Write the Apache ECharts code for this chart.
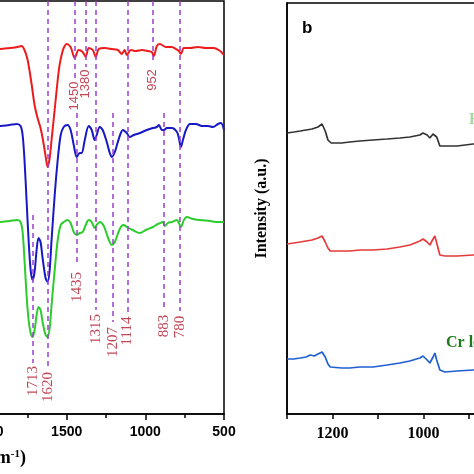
<!DOCTYPE html>
<html><head><meta charset="utf-8">
<script src="https://cdn.jsdelivr.net/npm/echarts@6/dist/echarts.min.js"></script>
<style>html,body{margin:0;padding:0;background:#fff}#c{width:474px;height:474px}</style>
</head><body><div id="c"></div>
<script>
// Panel a: FTIR spectra [wavenumber, transmittance (a.u.)]
const ftirRed = [[2000,366],[1927,365],[1863,366],[1812,367],[1787,368],[1768,364],[1748,354],[1723,330],[1704,309],[1685,296],[1666,286],[1653,276],[1640,264],[1627,251],[1621,247],[1608,256],[1596,274],[1583,294],[1570,314],[1557,334],[1545,349],[1532,359],[1519,366],[1500,370],[1475,367],[1449,356],[1424,364],[1398,362],[1379,357],[1360,366],[1334,364],[1315,357],[1296,365],[1258,366],[1213,365],[1175,364],[1150,360],[1131,364],[1118,359],[1092,364],[1060,363],[1022,364],[984,363],[959,362],[946,358],[927,368],[908,370],[869,367],[831,367],[806,365],[787,363],[774,360],[755,366],[716,366],[666,367],[615,366],[564,366],[525,363],[500,359]];
const ftirBlue = [[2000,287],[1927,288],[1863,289],[1818,290],[1793,288],[1780,279],[1768,254],[1755,214],[1742,174],[1729,144],[1717,134],[1704,142],[1691,164],[1679,176],[1666,172],[1653,156],[1634,136],[1621,132],[1608,144],[1596,174],[1576,219],[1557,254],[1538,279],[1519,287],[1494,289],[1475,284],[1455,269],[1436,257],[1417,261],[1404,261],[1385,274],[1360,288],[1341,284],[1322,274],[1309,279],[1290,287],[1271,284],[1245,272],[1226,261],[1213,257],[1194,262],[1175,272],[1156,281],[1143,284],[1118,281],[1099,277],[1073,279],[1035,281],[990,284],[952,286],[927,287],[914,289],[895,284],[882,284],[863,286],[831,286],[799,282],[787,276],[774,267],[761,274],[742,284],[716,290],[678,290],[640,288],[602,288],[570,287],[538,290],[519,291],[500,284]];
const ftirGreen = [[2000,192],[1927,192],[1863,193],[1812,194],[1793,192],[1780,182],[1768,154],[1755,119],[1742,94],[1729,81],[1717,77],[1704,84],[1691,99],[1679,107],[1666,104],[1653,92],[1634,79],[1621,77],[1608,86],[1596,109],[1576,144],[1557,174],[1538,189],[1519,192],[1494,194],[1475,191],[1455,182],[1436,179],[1417,181],[1398,182],[1379,189],[1360,194],[1341,192],[1322,186],[1309,189],[1290,192],[1264,188],[1239,177],[1213,169],[1194,172],[1175,180],[1156,187],[1137,189],[1118,187],[1080,184],[1035,181],[997,184],[952,187],[920,190],[888,192],[876,188],[857,191],[831,192],[799,194],[787,191],[774,187],[755,194],[736,197],[697,195],[653,194],[589,193],[538,192],[500,192]];

// Peak annotations (wavenumber, dashed line extent, label centre) in transmittance units
const topPeaks = [1450, 1380, 952];
const topLineFrom = [413, 413, 413];
const topLineTo = [336, 347, 350];
const topLabelY = [318, 330, 334];
const bottomPeaks = [1713, 1620, 1435, 1315, 1207, 1114, 883, 780];
const bottomLineFrom = [199, 413, 301, 413, 301, 413, 301, 413];
const bottomLineTo = [51, 48, 149, 104, 92, 101, 103, 103];
const bottomLabelY = [33, 27, 127, 85, 72, 83, 88, 87];

// Panel b: spectra [wavenumber, intensity (a.u.)]
const bBlack = [[1300,281],[1285,282],[1271,283],[1258,284],[1245,285],[1232,287],[1223,290],[1216,283],[1210,274],[1203,271],[1180,271],[1162,272],[1140,273],[1111,274],[1080,275],[1052,276],[1030,277],[1008,279],[1001,281],[992,279],[986,276],[979,280],[975,282],[971,277],[964,268],[953,268],[926,268],[891,270],[860,270],[800,271],[700,271]];
const bRed = [[1300,170],[1285,171],[1271,172],[1258,173],[1245,174],[1232,176],[1223,178],[1216,172],[1210,166],[1205,163],[1180,163],[1162,163],[1140,164],[1111,164],[1080,165],[1052,167],[1030,169],[1008,173],[1001,175],[992,172],[986,169],[979,175],[975,178],[971,171],[964,159],[953,158],[926,158],[891,159],[860,159],[800,160],[700,160]];
const bBlue = [[1300,55],[1285,55],[1271,56],[1258,57],[1249,59],[1240,58],[1232,60],[1223,62],[1216,57],[1210,50],[1205,47],[1180,46],[1162,46],[1140,47],[1111,47],[1080,49],[1052,51],[1030,53],[1008,56],[1001,58],[992,54],[986,51],[979,57],[975,61],[971,54],[964,44],[953,42],[926,43],[891,44],[860,44],[800,45],[700,45]];

const chart = echarts.init(document.getElementById('c'));
const black = '#000';
const labelRed = '#b3182b';
const dash = {color:'#9a3fd0', type:[5,4], width:1.5};

function lines(peaks, from, to){
  return peaks.map((w,i)=>[{coord:[w, from[i]]},{coord:[w, to[i]]}]);
}

chart.setOption({
  animation:false,
  backgroundColor:'#fff',
  grid:[
    {left:-12, top:1, width:236, height:413, show:true, borderColor:black, borderWidth:1.5, outerBoundsMode:'none', containLabel:false},
    {left:287, top:3, width:318.5, height:411, show:true, borderColor:black, borderWidth:1.5, outerBoundsMode:'none', containLabel:false}
  ],
  xAxis:[
    {gridIndex:0, type:'value', min:500, max:2000, interval:500, inverse:true,
     axisLine:{lineStyle:{color:black,width:1.5}},
     axisTick:{length:6, lineStyle:{color:black,width:1.5}},
     minorTick:{show:true, splitNumber:2, length:4, lineStyle:{color:black,width:1.5}},
     splitLine:{show:false}, minorSplitLine:{show:false},
     axisLabel:{color:black, fontWeight:'bold', fontSize:14, fontFamily:'Liberation Sans', margin:11, formatter:v=>String(v)}},
    {gridIndex:1, type:'value', min:600, max:1300, interval:100, inverse:true,
     axisLine:{lineStyle:{color:black,width:1.5}},
     axisTick:{length:5, lineStyle:{color:black,width:1.5}},
     splitLine:{show:false},
     axisLabel:{color:black, fontWeight:'bold', fontSize:16, fontFamily:'Liberation Serif', margin:12,
       formatter:v=> (v % 200 === 0 ? String(v) : '')}}
  ],
  yAxis:[
    {gridIndex:0, type:'value', min:0, max:413, show:false},
    {gridIndex:1, type:'value', min:0, max:411,
     axisLine:{show:true, lineStyle:{color:black,width:1.5}}, axisTick:{show:false}, axisLabel:{show:false}, splitLine:{show:false},
     name:'Intensity (a.u.)', nameLocation:'middle', nameGap:17,
     nameTextStyle:{fontFamily:'Liberation Serif', fontWeight:'bold', fontSize:16, color:black}}
  ],
  series:[
    {type:'line', xAxisIndex:0, yAxisIndex:0, data:ftirRed, showSymbol:false, smooth:0.3, lineStyle:{color:'#ec1c1c', width:2}},
    {type:'line', xAxisIndex:0, yAxisIndex:0, data:ftirBlue, showSymbol:false, smooth:0.3, lineStyle:{color:'#1818c4', width:2}},
    {type:'line', xAxisIndex:0, yAxisIndex:0, data:ftirGreen, showSymbol:false, smooth:0.3, lineStyle:{color:'#2ccc2c', width:2}},
    {type:'line', xAxisIndex:1, yAxisIndex:1, data:bBlack, showSymbol:false, lineStyle:{color:'#333333', width:1.7}},
    {type:'line', xAxisIndex:1, yAxisIndex:1, data:bRed, showSymbol:false, lineStyle:{color:'#e43a3a', width:1.7}},
    {type:'line', xAxisIndex:1, yAxisIndex:1, data:bBlue, showSymbol:false, lineStyle:{color:'#1f5fd2', width:1.7}},
    {type:'scatter', xAxisIndex:0, yAxisIndex:0, z:5,
     data:topPeaks.map((w,i)=>[w, topLabelY[i]]), symbolSize:1, itemStyle:{color:'rgba(0,0,0,0)'},
     label:{show:true, position:'inside', rotate:90, formatter:p=>String(p.value[0]), color:labelRed, fontFamily:'Liberation Sans', fontSize:13},
     markLine:{silent:true, symbol:['none','none'], label:{show:false}, lineStyle:dash, data:lines(topPeaks, topLineFrom, topLineTo)}},
    {type:'scatter', xAxisIndex:0, yAxisIndex:0, z:5,
     data:bottomPeaks.map((w,i)=>[w, bottomLabelY[i]]), symbolSize:1, itemStyle:{color:'rgba(0,0,0,0)'},
     label:{show:true, position:'inside', rotate:90, formatter:p=>String(p.value[0]), color:labelRed, fontFamily:'Liberation Serif', fontSize:15},
     markLine:{silent:true, symbol:['none','none'], label:{show:false}, lineStyle:dash, data:lines(bottomPeaks, bottomLineFrom, bottomLineTo)}}
  ],
  graphic:[
    {type:'text', x:302, y:28, style:{text:'b', font:'bold 17px "Liberation Sans"', fill:black, verticalAlign:'middle'}},
    {type:'text', x:469, y:120, style:{text:'HAP', font:'bold 16px "Liberation Serif"', fill:'#a6d6a6', verticalAlign:'middle'}},
    {type:'text', x:446, y:343, style:{text:'Cr loaded', font:'bold 16px "Liberation Serif"', fill:'#1d7a1d', verticalAlign:'middle'}},
    {type:'text', x:26, y:458, style:{text:'{a|Wavenumber (cm}{s|-1}{a|)}', align:'right', verticalAlign:'middle',
      rich:{a:{fontFamily:'Liberation Serif', fontWeight:'bold', fontSize:18, fill:black},
            s:{fontFamily:'Liberation Serif', fontWeight:'bold', fontSize:11, fill:black, verticalAlign:'top'}}}}
  ]
});
</script>
</body></html>
